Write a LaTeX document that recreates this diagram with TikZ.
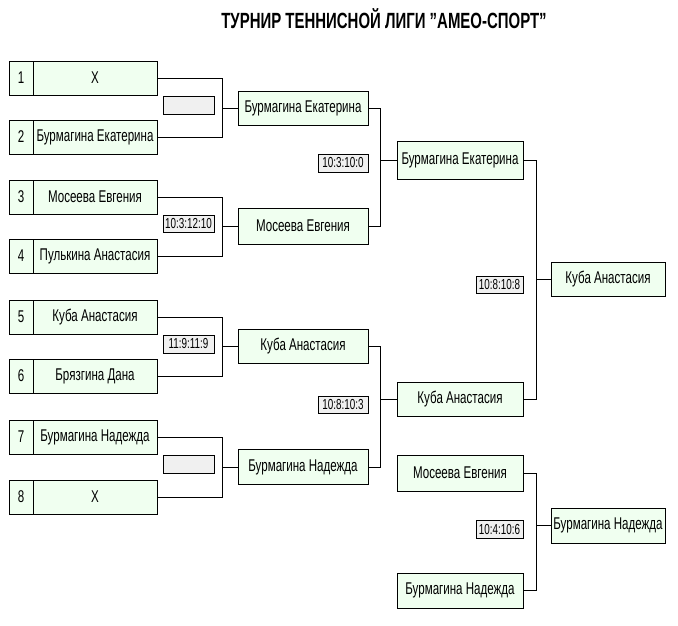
\documentclass[tikz,border=0pt]{standalone}
\usepackage{fontspec}
\setmainfont[FakeStretch=0.68]{Liberation Sans}
\begin{document}
\begin{tikzpicture}[x=1pt,y=-1pt,
  pbox/.style={draw,fill=green!6!white,line width=0.7pt,inner sep=0pt,font=\fontsize{17}{18}\selectfont},
  sbox/.style={draw,fill=gray!12,line width=0.6pt,inner sep=0pt,font=\fontsize{14.5}{15}\selectfont},
  ln/.style={line width=0.7pt}]
\useasboundingbox (0,0) rectangle (678,625);
\node[font=\bfseries\fontsize{22}{23}\selectfont] (title) at (384,19) {ТУРНИР ТЕННИСНОЙ ЛИГИ \symbol{34}АМЕО-СПОРТ\symbol{34}};
% seeds
\foreach \n/\y/\t in {1/78/X,2/137/Бурмагина Екатерина,3/197/Мосеева Евгения,4/256/Пулькина Анастасия,5/317/Куба Анастасия,6/376/Брязгина Дана,7/437/Бурмагина Надежда,8/497/X}{
  \node[pbox,minimum width=24pt,minimum height=34pt] (n\n) at (21,\y) {\n};
  \node[pbox,minimum width=124pt,minimum height=34pt] (s\n) at (95,\y) {\t};
}
% scores R1
\node[sbox,minimum width=51pt,minimum height=18pt] (c1) at (188.5,105) {};
\node[sbox,minimum width=51pt,minimum height=17pt] (c2) at (188.5,224) {10:3:12:10};
\node[sbox,minimum width=51pt,minimum height=18pt] (c3) at (188.5,344) {11:9:11:9};
\node[sbox,minimum width=51pt,minimum height=18pt] (c4) at (188.5,464) {};
% R2
\node[pbox,minimum width=130pt,minimum height=34pt] (r1) at (303,108) {Бурмагина Екатерина};
\node[pbox,minimum width=130pt,minimum height=36pt] (r2) at (303,226) {Мосеева Евгения};
\node[pbox,minimum width=130pt,minimum height=34pt] (r3) at (303,346) {Куба Анастасия};
\node[pbox,minimum width=130pt,minimum height=35pt] (r4) at (303,467) {Бурмагина Надежда};
\node[sbox,minimum width=50pt,minimum height=18pt] (d1) at (343,163) {10:3:10:0};
\node[sbox,minimum width=50pt,minimum height=17pt] (d2) at (343,404.5) {10:8:10:3};
% R3
\node[pbox,minimum width=126pt,minimum height=38pt] (q1) at (460,160) {Бурмагина Екатерина};
\node[pbox,minimum width=126pt,minimum height=34pt] (q2) at (460,399) {Куба Анастасия};
\node[sbox,minimum width=47pt,minimum height=17pt] (e1) at (499.5,284.5) {10:8:10:8};
\node[pbox,minimum width=114pt,minimum height=34pt] (f) at (608,279) {Куба Анастасия};
% third place
\node[pbox,minimum width=126pt,minimum height=36pt] (t1) at (460,473) {Мосеева Евгения};
\node[pbox,minimum width=126pt,minimum height=35pt] (t2) at (460,590.5) {Бурмагина Надежда};
\node[sbox,minimum width=47pt,minimum height=18pt] (e2) at (499.5,529) {10:4:10:6};
\node[pbox,minimum width=114pt,minimum height=35pt] (g) at (608,525.5) {Бурмагина Надежда};
% connectors
\foreach \a/\b/\r in {s1/s2/r1,s3/s4/r2,s5/s6/r3,s7/s8/r4}{
  \draw[ln] (\a.east) -| (222,0 |- \r.west);
  \draw[ln] (\b.east) -| (222,0 |- \r.west) -- (\r.west);
}
\foreach \a/\b/\r in {r1/r2/q1,r3/r4/q2}{
  \draw[ln] (\a.east) -| (380,0 |- \r.west);
  \draw[ln] (\b.east) -| (380,0 |- \r.west) -- (\r.west);
}
\foreach \a/\b/\r in {q1/q2/f,t1/t2/g}{
  \draw[ln] (\a.east) -| (536,0 |- \r.west);
  \draw[ln] (\b.east) -| (536,0 |- \r.west) -- (\r.west);
}
\end{tikzpicture}
\end{document}
